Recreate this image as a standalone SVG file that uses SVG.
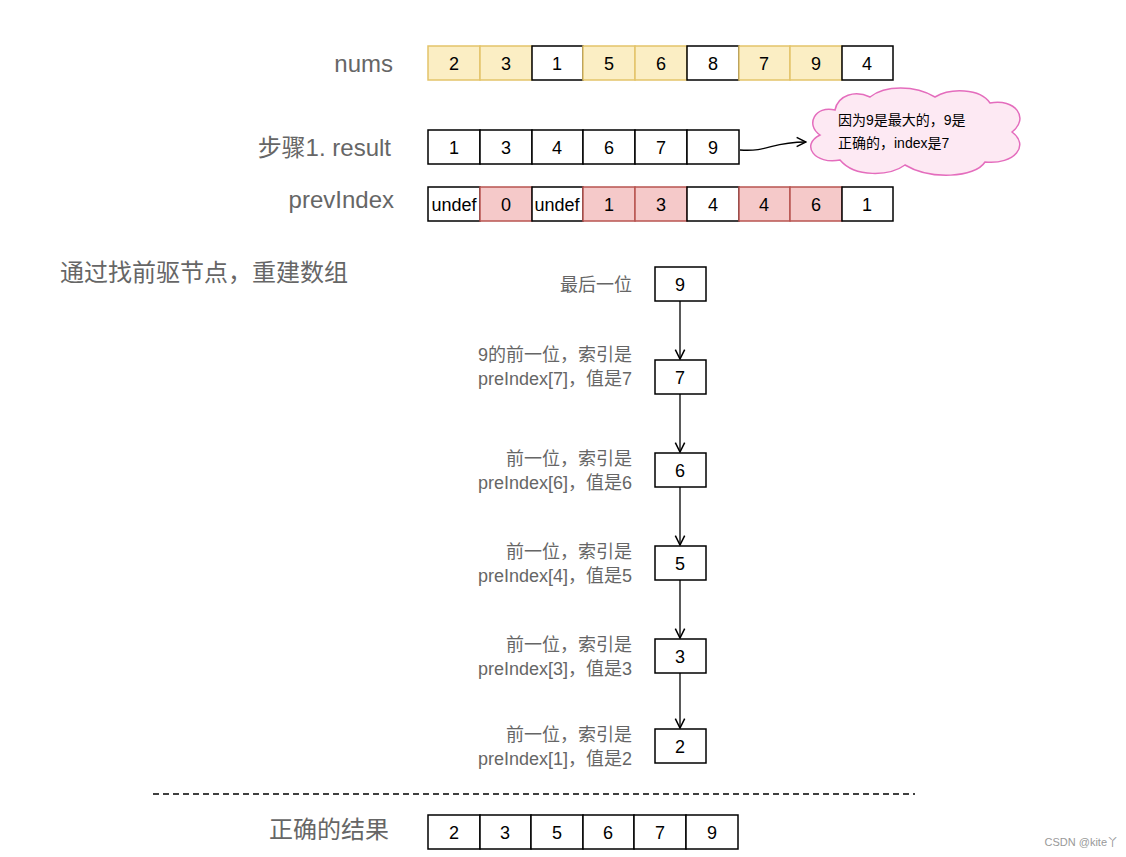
<svg xmlns="http://www.w3.org/2000/svg" width="1126" height="857" viewBox="0 0 1126 857">
<style>
text{font-family:"Liberation Sans","Noto Sans CJK SC",sans-serif}
.c{stroke:#000;stroke-width:1.5;fill:#fff}
.y{fill:#fbeec4;stroke:#e3c46a;stroke-width:1.5}
.r{fill:#f5c9c9;stroke:#b85450;stroke-width:1.5}
.v{font-size:18px;text-anchor:middle;fill:#000}
.h{font-size:24px;fill:#666;text-anchor:end}
.l{font-size:18px;fill:#666;text-anchor:end}
.e{stroke:#000;stroke-width:1.3;fill:none;marker-end:url(#a)}
</style>
<defs><marker id="a" viewBox="0 0 10 10" refX="9" refY="5" markerWidth="9" markerHeight="9" orient="auto"><path d="M1,1 L9,5 L1,9" fill="none" stroke="#000" stroke-width="1.3"/></marker></defs>
<rect width="1126" height="857" fill="#fff"/>
<text class="h" x="393" y="72">nums</text>
<text class="h" x="391" y="156">步骤1. result</text>
<text class="h" x="394" y="208">prevIndex</text>
<text x="60" y="281" style="font-size:24px;fill:#666">通过找前驱节点，重建数组</text>
<text class="h" x="389" y="838">正确的结果</text>
<g id="nums">
<rect class="y" x="428" y="46" width="52" height="34"/><text class="v" x="454" y="70">2</text>
<rect class="y" x="480" y="46" width="52" height="34"/><text class="v" x="506" y="70">3</text>
<rect class="c" x="532" y="46" width="51" height="34"/><text class="v" x="557" y="70">1</text>
<rect class="y" x="583" y="46" width="52" height="34"/><text class="v" x="609" y="70">5</text>
<rect class="y" x="635" y="46" width="52" height="34"/><text class="v" x="661" y="70">6</text>
<rect class="c" x="687" y="46" width="52" height="34"/><text class="v" x="713" y="70">8</text>
<rect class="y" x="739" y="46" width="51" height="34"/><text class="v" x="764" y="70">7</text>
<rect class="y" x="790" y="46" width="52" height="34"/><text class="v" x="816" y="70">9</text>
<rect class="c" x="842" y="46" width="51" height="34"/><text class="v" x="867" y="70">4</text>
</g>
<g id="result">
<rect class="c" x="428" y="130" width="52" height="34"/><text class="v" x="454" y="154">1</text>
<rect class="c" x="480" y="130" width="52" height="34"/><text class="v" x="506" y="154">3</text>
<rect class="c" x="532" y="130" width="51" height="34"/><text class="v" x="557" y="154">4</text>
<rect class="c" x="583" y="130" width="52" height="34"/><text class="v" x="609" y="154">6</text>
<rect class="c" x="635" y="130" width="52" height="34"/><text class="v" x="661" y="154">7</text>
<rect class="c" x="687" y="130" width="52" height="34"/><text class="v" x="713" y="154">9</text>
</g>
<g id="prevIndex">
<rect class="c" x="428" y="187" width="52" height="34"/><text class="v" x="454" y="211">undef</text>
<rect class="r" x="480" y="187" width="52" height="34"/><text class="v" x="506" y="211">0</text>
<rect class="c" x="532" y="187" width="51" height="34"/><text class="v" x="557" y="211">undef</text>
<rect class="r" x="583" y="187" width="52" height="34"/><text class="v" x="609" y="211">1</text>
<rect class="r" x="635" y="187" width="52" height="34"/><text class="v" x="661" y="211">3</text>
<rect class="c" x="687" y="187" width="52" height="34"/><text class="v" x="713" y="211">4</text>
<rect class="r" x="739" y="187" width="51" height="34"/><text class="v" x="764" y="211">4</text>
<rect class="r" x="790" y="187" width="52" height="34"/><text class="v" x="816" y="211">6</text>
<rect class="c" x="842" y="187" width="51" height="34"/><text class="v" x="867" y="211">1</text>
</g>
<g id="cloud">
<path d="M835,110 C815,105 805,125 820,135 C800,145 815,165 840,160 C855,178 890,176 905,165 C930,180 975,178 985,162 C1015,165 1030,145 1012,132 C1030,118 1015,98 990,103 C980,88 950,88 935,97 C915,85 885,85 870,97 C855,90 838,95 835,110 Z" fill="#fde9f3" stroke="#e46dbd" stroke-width="1.5"/>
<text x="838" y="125" style="font-size:14px;fill:#000">因为9是最大的，9是</text>
<text x="838" y="148" style="font-size:14px;fill:#000">正确的，index是7</text>
</g>
<g id="chain">
<rect class="c" x="655" y="267" width="51" height="34"/><text class="v" x="680" y="291">9</text>
<rect class="c" x="655" y="360" width="51" height="34"/><text class="v" x="680" y="384">7</text>
<rect class="c" x="655" y="453" width="51" height="34"/><text class="v" x="680" y="477">6</text>
<rect class="c" x="655" y="546" width="51" height="34"/><text class="v" x="680" y="570">5</text>
<rect class="c" x="655" y="639" width="51" height="34"/><text class="v" x="680" y="663">3</text>
<rect class="c" x="655" y="729" width="51" height="34"/><text class="v" x="680" y="753">2</text>
</g>
<g id="labels">
<text class="l" x="632" y="291">最后一位</text>
<text class="l" x="632" y="361">9的前一位，索引是</text><text class="l" x="632" y="385">preIndex[7]，值是7</text>
<text class="l" x="632" y="465">前一位，索引是</text><text class="l" x="632" y="489">preIndex[6]，值是6</text>
<text class="l" x="632" y="558">前一位，索引是</text><text class="l" x="632" y="582">preIndex[4]，值是5</text>
<text class="l" x="632" y="651">前一位，索引是</text><text class="l" x="632" y="675">preIndex[3]，值是3</text>
<text class="l" x="632" y="741">前一位，索引是</text><text class="l" x="632" y="765">preIndex[1]，值是2</text>
</g>
<g id="connectors">
<path class="e" d="M740,150 C770,152 770,142 806,142"/>
<path class="e" d="M680,301 V359"/>
<path class="e" d="M680,394 V452"/>
<path class="e" d="M680,487 V545"/>
<path class="e" d="M680,580 V638"/>
<path class="e" d="M680,673 V728"/>
<line x1="153" y1="794" x2="915" y2="794" stroke="#000" stroke-width="1.3" stroke-dasharray="6,4"/>
</g>
<g id="final">
<rect class="c" x="428" y="815" width="52" height="34"/><text class="v" x="454" y="839">2</text>
<rect class="c" x="480" y="815" width="51" height="34"/><text class="v" x="505" y="839">3</text>
<rect class="c" x="531" y="815" width="52" height="34"/><text class="v" x="557" y="839">5</text>
<rect class="c" x="583" y="815" width="51" height="34"/><text class="v" x="608" y="839">6</text>
<rect class="c" x="634" y="815" width="52" height="34"/><text class="v" x="660" y="839">7</text>
<rect class="c" x="686" y="815" width="52" height="34"/><text class="v" x="712" y="839">9</text>
</g>
<text x="1118" y="846" style="font-size:11px;fill:#999;text-anchor:end">CSDN @kite丫</text>
</svg>
